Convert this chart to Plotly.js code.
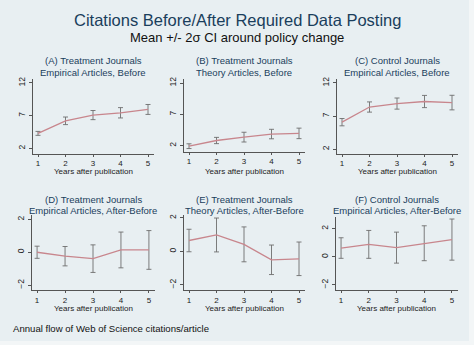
<!DOCTYPE html>
<html>
<head>
<meta charset="utf-8">
<script src="https://cdn.plot.ly/plotly-3.0.1.min.js"></script>
<style>html,body{margin:0;padding:0;background:#F3F6F7;}#chart{width:474px;height:345px;}</style>
</head>
<body>
<div id="chart"></div>
<script>
// ---- data ----
const years = [1, 2, 3, 4, 5];
const meanA = [4.28, 6.2, 7.08, 7.43, 7.94];
const ciA   = [0.3, 0.58, 0.7, 0.79, 0.76];
const meanB = [1.9, 2.81, 3.35, 3.84, 3.95];
const ciB   = [0.38, 0.5, 0.78, 0.76, 0.84];
const meanC = [6.08, 8.37, 8.89, 9.2, 9.04];
const ciC   = [0.55, 0.77, 0.84, 0.92, 1.1];
const meanD = [0.0, -0.24, -0.39, 0.14, 0.14];
const ciD   = [0.37, 0.59, 0.84, 1.09, 1.18];
const meanE = [0.65, 0.98, 0.42, -0.5, -0.44];
const ciE   = [0.67, 1.01, 1.04, 0.88, 1.0];
const meanF = [0.62, 0.88, 0.65, 0.96, 1.22];
const ciF   = [0.73, 0.99, 1.1, 1.24, 1.46];
const titles1 = ["(A) Treatment Journals", "(B) Treatment Journals", "(C) Control Journals",
                 "(D) Treatment Journals", "(E) Treatment Journals", "(F) Control Journals"];
const titles2 = ["Empirical Articles, Before", "Theory Articles, Before", "Empirical Articles, Before",
                 "Empirical Articles, After-Before", "Theory Articles, After-Before", "Empirical Articles, After-Before"];
const topTicks = [2, 7, 12];
const botTicks = [-2, 0, 2];
const xTitle = "Years after publication";

// ---- layout geometry (pixels) ----
const W = 474, H = 345;
const fx = p => p / W, fy = p => 1 - p / H;
const panels = [
  {m: meanA, c: ciA, x0: 32.5, x1: 153.5, y0: 79, y1: 153.5, yr: [1.2, 12.6], yt: topTicks},
  {m: meanB, c: ciB, x0: 183.5, x1: 304.5, y0: 79, y1: 151.5, yr: [1.05, 12.65], yt: topTicks},
  {m: meanC, c: ciC, x0: 336.5, x1: 457.5, y0: 79, y1: 153.5, yr: [1.35, 12.6], yt: topTicks},
  {m: meanD, c: ciD, x0: 31.5, x1: 154.5, y0: 214.5, y1: 290, yr: [-2.3, 2.3], yt: botTicks},
  {m: meanE, c: ciE, x0: 183.5, x1: 304.5, y0: 214.5, y1: 290, yr: [-2.3, 2.2], yt: botTicks},
  {m: meanF, c: ciF, x0: 335.5, x1: 457.5, y0: 216.5, y1: 290, yr: [-2.36, 2.86], yt: botTicks}
];

const font = "Liberation Sans, Arial, sans-serif";
const titleColor = "#1a3e5c";
const traces = [];
const layout = {
  width: W, height: H,
  margin: {l: 0, r: 0, t: 0, b: 0},
  paper_bgcolor: "#F3F6F7",
  plot_bgcolor: "#FFFFFF",
  showlegend: false,
  font: {family: font, size: 8, color: "#222"},
  shapes: [{type: "rect", xref: "paper", yref: "paper", x0: 0, x1: fx(469), y0: fy(341), y1: 1,
            fillcolor: "#E8EFF2", line: {width: 0}, layer: "below"}],
  annotations: [
    {text: "Citations Before/After Required Data Posting", xref: "paper", yref: "paper",
     x: 0.5, y: fy(20), xanchor: "center", yanchor: "middle", showarrow: false,
     font: {family: font, size: 16.5, color: titleColor}},
    {text: "Mean +/- 2σ CI around policy change", xref: "paper", yref: "paper",
     x: 0.5, y: fy(38), xanchor: "center", yanchor: "middle", showarrow: false,
     font: {family: font, size: 13, color: "#111"}},
    {text: "Annual flow of Web of Science citations/article", xref: "paper", yref: "paper",
     x: fx(11), y: fy(328), xanchor: "left", yanchor: "middle", showarrow: false,
     font: {family: font, size: 9.6, color: "#111"}}
  ]
};

panels.forEach((p, i) => {
  const n = i + 1;
  const xa = "x" + (n === 1 ? "" : n), ya = "y" + (n === 1 ? "" : n);
  traces.push({
    x: years, y: p.m, xaxis: xa, yaxis: ya, type: "scatter", mode: "lines",
    line: {color: "#C8868D", width: 1.3},
    error_y: {type: "data", array: p.c, visible: true, color: "#6E6E6E", thickness: 0.9, width: 2.5},
    hoverinfo: "skip"
  });
  const xk = "xaxis" + (n === 1 ? "" : n), yk = "yaxis" + (n === 1 ? "" : n);
  layout[xk] = {
    domain: [fx(p.x0), fx(p.x1)], range: [0.8, 5.2], anchor: ya,
    tickvals: years, ticks: "outside", ticklen: 2, tickwidth: 1, tickcolor: "#555",
    showline: true, linecolor: "#555", linewidth: 1, showgrid: false, zeroline: false,
    tickfont: {family: font, size: 8, color: "#222"}
  };
  layout[yk] = {
    domain: [fy(p.y1), fy(p.y0)], range: p.yr, anchor: xa,
    tickvals: p.yt, ticks: "outside", ticklen: 3, tickwidth: 1, tickcolor: "#555", tickangle: -90,
    showline: true, linecolor: "#555", linewidth: 1,
    showgrid: true, gridcolor: "#E8EFF2", gridwidth: 1, zeroline: false,
    tickfont: {family: font, size: 8.5, color: "#222"}
  };
  const cx = fx((p.x0 + p.x1) / 2);
  const row = i < 3 ? 0 : 1;
  layout.annotations.push(
    {text: titles1[i], xref: "paper", yref: "paper", x: cx, y: fy(row ? 199 : 61),
     xanchor: "center", yanchor: "middle", showarrow: false,
     font: {family: font, size: 9.5, color: titleColor}},
    {text: titles2[i], xref: "paper", yref: "paper", x: cx, y: fy(row ? 210.5 : 72),
     xanchor: "center", yanchor: "middle", showarrow: false,
     font: {family: font, size: 9.5, color: titleColor}},
    {text: xTitle, xref: "paper", yref: "paper", x: cx, y: fy(row ? 308 : 171.5),
     xanchor: "center", yanchor: "middle", showarrow: false,
     font: {family: font, size: 8, color: "#222"}}
  );
});

Plotly.newPlot("chart", traces, layout, {displayModeBar: false, staticPlot: true});
</script>
</body>
</html>
